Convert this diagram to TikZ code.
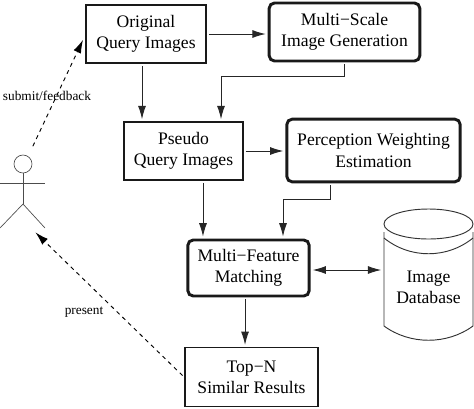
\documentclass[tikz,border=0pt]{standalone}
\usepackage{fontspec}
\setmainfont{Liberation Serif}
\usetikzlibrary{arrows.meta, positioning}

\begin{document}
\begin{tikzpicture}[x=0.75pt, y=-0.75pt,
    plainbox/.style={draw=black!90, line width=1.2pt, inner sep=0pt, align=center,
      font=\fontsize{13.2}{15.8}\selectfont},
    boldbox/.style={plainbox, line width=2.2pt, rounded corners=4pt},
    flow/.style={-{Latex[length=10pt,width=6pt]}, line width=0.7pt, black!85,
      shorten >=1.5pt, shorten <=1.5pt},
    dashflow/.style={flow, dash pattern=on 3pt off 3pt, black},
    stick/.style={line width=0.5pt, black!70},
    smalltext/.style={font=\fontsize{10}{12}\selectfont, inner sep=0pt}]
  \useasboundingbox (0,0) rectangle (474,408);
  % Caixas
  \node[plainbox, minimum width=90pt, minimum height=43.5pt] (orig) at (146,34) {Original\\Query Images};
  \node[boldbox, minimum width=113pt, minimum height=43.5pt] (multiscale) at (344.5,32) {Multi−Scale\\Image Generation};
  \node[plainbox, minimum width=89pt, minimum height=43.5pt] (pseudo) at (183.5,151) {Pseudo\\Query Images};
  \node[boldbox, minimum width=130pt, minimum height=47pt] (percep) at (373.5,150.5) {Perception Weighting\\Estimation};
  \node[boldbox, minimum width=91pt, minimum height=42pt] (matching) at (248.5,268) {Multi−Feature\\Matching};
  \node[plainbox, minimum width=100pt, minimum height=44pt] (topn) at (251.5,377) {Top−N\\Similar Results};
  % Banco de imagens
  \draw[line width=0.7pt, black!80] (428.5,224) ellipse [x radius=44.5, y radius=15];
  \draw[line width=0.7pt, black!80] (384,232) -- (384,326) .. controls (410,345) and (447,345) .. (473,326) -- (473,232);
  \draw[line width=0.7pt, black!80] (384,238) .. controls (410,259) and (447,259) .. (473,238);
  \node[plainbox, draw=none, minimum width=66.75pt, minimum height=40pt] (dbase) at (428.5,287) {Image\\Database};
  % Usuario
  \node[draw=black!70, line width=0.5pt, circle, minimum size=13.5pt, inner sep=0pt] (head) at (23,164) {};
  \coordinate (hip) at (23,204);
  \coordinate (armL) at (0,183);
  \coordinate (armR) at (45,183);
  \coordinate (footL) at (0,228);
  \coordinate (footR) at (45,228);
  \draw[stick] (head.south) -- (hip);
  \draw[stick] (armL) -- (armR);
  \draw[stick] (footL) -- (hip) -- (footR);
  % Setas
  \draw[flow] (orig.east) -- (orig.east -| multiscale.west);
  \draw[flow] ([xshift=-3pt]orig.south) -- ([xshift=-3pt]orig.south |- pseudo.north);
  \coordinate (msbend) at (221,76);
  \draw[flow] (multiscale.south) |- (msbend) -- (msbend |- pseudo.north);
  \draw[flow] (pseudo.east) -- (pseudo.east -| percep.west);
  \draw[flow] ([xshift=14.6pt]pseudo.south) -- ([xshift=14.6pt]pseudo.south |- matching.north);
  \coordinate (pebend) at (283,199);
  \draw[flow] ([xshift=-32pt]percep.south) |- (pebend) -- (pebend |- matching.north);
  \draw[flow, {Latex[length=10pt,width=6pt]}-{Latex[length=10pt,width=6pt]}] ([yshift=-1.5pt]matching.east) -- ([yshift=-1.5pt]matching.east -| dbase.west);
  \draw[flow] ([xshift=-2.6pt]matching.south) -- ([xshift=-2.6pt]matching.south |- topn.north);
  % Setas tracejadas
  \coordinate (actortop) at (32,148);
  \coordinate (actorfoot) at (34,231);
  \draw[dashflow] (actortop) -- ([xshift=-1pt,yshift=-3pt]orig.west);
  \draw[dashflow] (topn.west) -- (actorfoot);
  \node[smalltext] (submit) at (47,96) {submit/feedback};
  \node[smalltext] (present) at (84,312) {present};
\end{tikzpicture}
\end{document}
